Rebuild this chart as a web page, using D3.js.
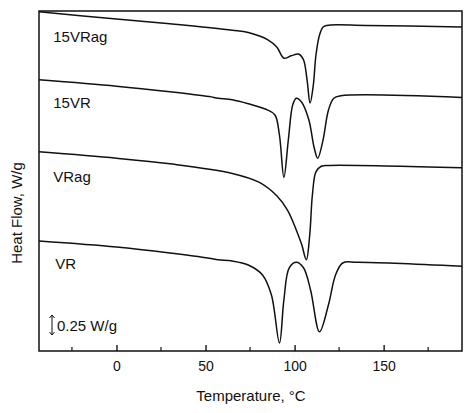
<!DOCTYPE html><html><head><meta charset="utf-8"><script src="https://cdn.jsdelivr.net/npm/d3@7"></script>
<style>body{margin:0;background:#fff}text{font-family:"Liberation Sans",Arial,sans-serif;fill:#111}</style></head><body><svg id="c" width="474" height="413"></svg><script>
const temps15VRag=[-43.5,0,30,65,74,85,90,94,98,102.5,105,107,108.7,110.5,112,114,116,118,140,194];
const hf15VRag=[4.24,4.15,4.09,4.01,3.98,3.89,3.80,3.66,3.69,3.71,3.64,3.39,3.10,3.32,3.70,3.95,4.05,4.07,4.07,4.05];
const temps15VR=[-43.5,0,30,52,57,65,74,85,89,91.5,94,96.5,99,101,104,108,111,113,116,119,122,126,194];
const hf15VR=[3.39,3.31,3.24,3.18,3.16,3.14,3.09,3.01,2.95,2.70,2.17,2.64,3.08,3.16,3.11,2.89,2.54,2.41,2.64,3.01,3.16,3.19,3.17];
const tempsVRag=[-43.5,0,30,65,80,90,96,101,104,106.6,108.5,110,112,115,120,194];
const hfVRag=[2.49,2.41,2.34,2.22,2.11,1.94,1.76,1.51,1.33,1.14,1.45,1.95,2.24,2.31,2.32,2.29];
const tempsVR=[-43.5,0,30,52,57,65,74,82,87,91.5,94,97,101,105,109,114,119,123,127,135,194];
const hfVR=[1.375,1.30,1.225,1.16,1.14,1.125,1.075,0.95,0.70,0.10,0.64,1.04,1.11,1.04,0.76,0.24,0.575,0.95,1.10,1.11,1.06];
const seriesNames=["15VRag","15VR","VRag","VR"];
const majorTicks=[0,50,100,150];
const minorTicks=[-25,25,75,125,175];
const svg=d3.select("#c");
const L=39,R=462,T=11,B=351;
const x=d3.scaleLinear().domain([-43.5,194]).range([L,R]);
const y=d3.scaleLinear().domain([0,4.25]).range([B,T]);
const series=[[temps15VRag,hf15VRag],[temps15VR,hf15VR],[tempsVRag,hfVRag],[tempsVR,hfVR]];
const line=d3.line().x(d=>x(d[0])).y(d=>y(d[1])).curve(d3.curveCatmullRom.alpha(0.5));
series.forEach(([t,h])=>{svg.append("path").attr("d",line(t.map((v,i)=>[v,h[i]]))).attr("fill","none").attr("stroke","#111").attr("stroke-width",1.5);});
svg.append("rect").attr("x",L).attr("y",T).attr("width",R-L).attr("height",B-T).attr("fill","none").attr("stroke","#111").attr("stroke-width",1.5);
const ax=svg.append("g").attr("transform",`translate(0,${B})`).call(d3.axisBottom(x).tickValues(majorTicks).tickSizeInner(-6).tickSizeOuter(0).tickPadding(10));
ax.select(".domain").remove();
ax.selectAll("text").attr("font-size",14).attr("font-family","Liberation Sans, Arial");
ax.selectAll("line").attr("stroke-width",1.3);
svg.append("g").attr("transform",`translate(0,${B})`).selectAll("line").data(minorTicks).join("line").attr("x1",d=>x(d)).attr("x2",d=>x(d)).attr("y1",0).attr("y2",-4).attr("stroke","#111").attr("stroke-width",1.2);
const labelY=[3.86,3.04,2.11,1.03];
seriesNames.forEach((n,i)=>svg.append("text").attr("x",x(-35.5)+(i==3?2:0)).attr("y",y(labelY[i])).attr("font-size",15).text(n));
svg.append("text").attr("x",251).attr("y",401).attr("text-anchor","middle").attr("font-size",15).text("Temperature, °C");
svg.append("text").attr("transform","translate(22,213) rotate(-90)").attr("text-anchor","middle").attr("font-size",15).text("Heat Flow, W/g");
const sb=[0.2,0.45];
svg.append("line").attr("x1",52).attr("x2",52).attr("y1",y(sb[1])).attr("y2",y(sb[0])).attr("stroke","#111").attr("stroke-width",1);
svg.append("path").attr("d",`M49.5,${y(sb[1])+3}L52,${y(sb[1])}L54.5,${y(sb[1])+3}M49.5,${y(sb[0])-3}L52,${y(sb[0])}L54.5,${y(sb[0])-3}`).attr("fill","none").attr("stroke","#111");
svg.append("text").attr("x",57).attr("y",331).attr("font-size",15).text("0.25 W/g");
</script></body></html>
